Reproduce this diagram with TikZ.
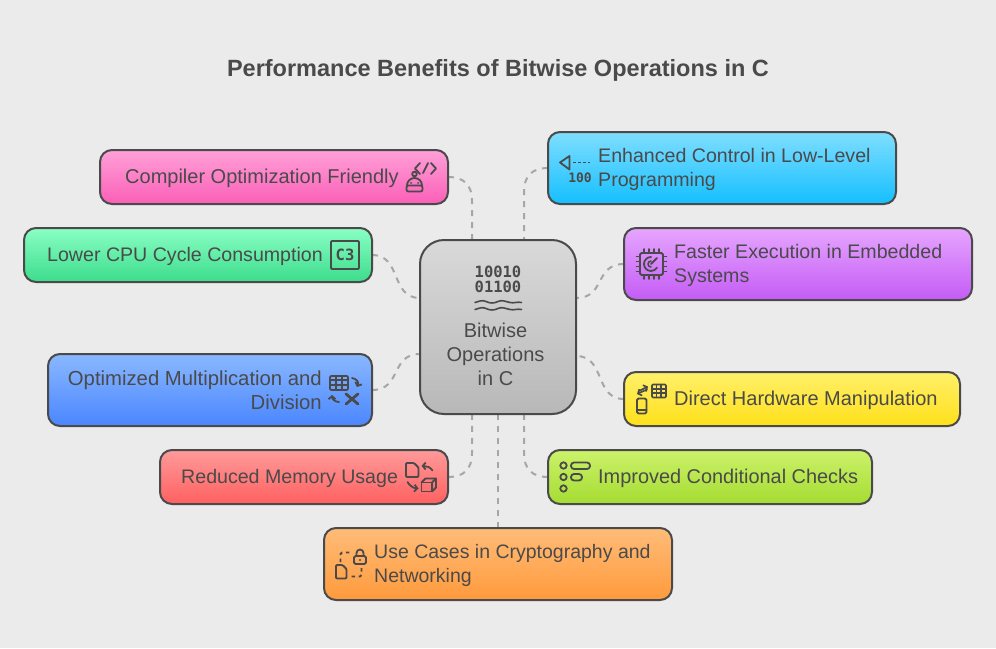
\documentclass[tikz,border=0pt]{standalone}
\usepackage{fontspec}
\setmainfont{Liberation Sans}
\newfontfamily\bitfont{DejaVu Sans Mono}
\usetikzlibrary{arrows.meta}

\definecolor{pagebg}{HTML}{EBEBEB}
\definecolor{inkcol}{HTML}{4A4A4A}
\definecolor{linkcol}{HTML}{A6A6A6}
\definecolor{greytop}{HTML}{D9D9D9}   \definecolor{greybot}{HTML}{B8B8B8}
\definecolor{pinktop}{HTML}{FFA0D8}   \definecolor{pinkbot}{HTML}{FB5FB7}
\definecolor{skytop}{HTML}{80DEFF}    \definecolor{skybot}{HTML}{14BFFF}
\definecolor{minttop}{HTML}{8AFFC4}   \definecolor{mintbot}{HTML}{3CDC8C}
\definecolor{violettop}{HTML}{E6A5FF} \definecolor{violetbot}{HTML}{C45CF5}
\definecolor{bluetop}{HTML}{8AB8FF}   \definecolor{bluebot}{HTML}{4A86FF}
\definecolor{yellowtop}{HTML}{FFF06A} \definecolor{yellowbot}{HTML}{FFE01A}
\definecolor{redtop}{HTML}{FF9A9A}    \definecolor{redbot}{HTML}{FF6060}
\definecolor{limetop}{HTML}{CCF26A}   \definecolor{limebot}{HTML}{A5DC32}
\definecolor{orangetop}{HTML}{FFBC78} \definecolor{orangebot}{HTML}{FF9A3C}

\tikzset{
  box/.style n args={3}{draw=inkcol, line width=2pt, rounded corners=12pt, inner sep=0pt,
    top color=#1top, bottom color=#1bot, minimum width=#2, minimum height=#3},
  lbl/.style={text=inkcol, font=\fontsize{#1}{24}\selectfont, inner sep=0pt, align=left},
  lbl/.default=19.6,
  bits/.style={text=inkcol, inner sep=0pt, font=\bitfont\bfseries\fontsize{15.5}{15.5}\selectfont},
  link/.style={draw=linkcol, line width=2pt, dash pattern=on 6pt off 6pt},
  ico/.style={draw=inkcol, line width=1.8pt, line cap=round, line join=round},
  icotip/.style={ico, -{Straight Barb[length=3pt,width=7pt]}},
}

\begin{document}
\begin{tikzpicture}[x=1pt, y=-1pt]
  \fill[pagebg] (0, 0) rectangle (996, 648);
  \useasboundingbox (0, 0) rectangle (996, 648);

  \node[text=inkcol, font=\bfseries\fontsize{23.5}{28}\selectfont, inner sep=0pt] (title) at (498, 70.5) {Performance Benefits of Bitwise Operations in C};

  % connectors
  \coordinate (topl) at (472, 240);
  \coordinate (topr) at (524, 240);
  \coordinate (botl) at (472, 414);
  \coordinate (botm) at (498, 414);
  \coordinate (botr) at (524, 414);
  \coordinate (lefta) at (420, 298);
  \coordinate (leftb) at (420, 354);
  \coordinate (righta) at (576, 298);
  \coordinate (rightb) at (576, 356);
  \coordinate (compilerend) at (448, 177);
  \coordinate (controlend) at (548, 168);
  \coordinate (cycleend) at (372, 255);
  \coordinate (embeddedend) at (624, 264);
  \coordinate (multiplyend) at (372, 390);
  \coordinate (hardwareend) at (624, 399);
  \coordinate (memoryend) at (448, 477);
  \coordinate (checksend) at (548, 477);
  \coordinate (cryptoend) at (498, 528);
  \draw[link] (compilerend) .. controls (464, 177) and (472, 185) .. (472, 201) -- (topl);
  \draw[link] (controlend) .. controls (532, 168) and (524, 176) .. (524, 192) -- (topr);
  \draw[link] (cycleend) .. controls (402, 255) and (390, 298) .. (lefta);
  \draw[link] (multiplyend) .. controls (402, 390) and (390, 354) .. (leftb);
  \draw[link] (embeddedend) .. controls (594, 264) and (606, 298) .. (righta);
  \draw[link] (hardwareend) .. controls (594, 399) and (606, 356) .. (rightb);
  \draw[link] (memoryend) .. controls (464, 477) and (472, 469) .. (472, 453) -- (botl);
  \draw[link] (checksend) .. controls (532, 477) and (524, 469) .. (524, 453) -- (botr);
  \draw[link] (cryptoend) -- (botm);

  % boxes
  \node[box={grey}{156}{174}, rounded corners=24pt] (bitwise) at (498, 327) {};
  \node[box={pink}{348}{54}] (compiler) at (274, 177) {};
  \node[box={sky}{348}{72}] (control) at (722, 168) {};
  \node[box={mint}{348}{54}] (cycle) at (198, 255) {};
  \node[box={violet}{348}{72}] (embedded) at (798, 264) {};
  \node[box={blue}{324}{72}] (multiply) at (210, 390) {};
  \node[box={yellow}{336}{54}] (hardware) at (792, 399) {};
  \node[box={red}{288}{54}] (memory) at (304, 477) {};
  \node[box={lime}{324}{54}] (checks) at (710, 477) {};
  \node[box={orange}{348}{72}] (crypto) at (498, 564) {};

  % labels
  \node[lbl=20, anchor=west] (compilertxt) at (125, 178.5) {Compiler Optimization Friendly};
  \node[lbl, anchor=west] (controltxt) at (598, 169.5) {Enhanced Control in Low-Level\\Programming};
  \node[lbl, anchor=west] (cycletxt) at (47, 256.5) {Lower CPU Cycle Consumption};
  \node[lbl, anchor=west] (embeddedtxt) at (674, 265.5) {Faster Execution in Embedded\\Systems};
  \node[lbl=20.3, anchor=east, align=right] (multiplytxt) at (322, 390) {Optimized Multiplication and\\Division};
  \node[lbl=20, anchor=west] (hardwaretxt) at (674, 400.5) {Direct Hardware Manipulation};
  \node[lbl, anchor=west] (memorytxt) at (181, 478.5) {Reduced Memory Usage};
  \node[lbl=19.9, anchor=west] (checkstxt) at (598, 478.5) {Improved Conditional Checks};
  \node[lbl=19.5, anchor=west] (cryptotxt) at (374, 565.5) {Use Cases in Cryptography and\\Networking};
  \node[lbl=20, align=center] (bitwisetxt) at (495.5, 354) {Bitwise\\Operations\\in C};

  % central icon
  \node[bits] (bitsa) at (498, 272) {10010};
  \node[bits] (bitsb) at (498, 287) {01100};
  \foreach \wy in {302.5, 309.5} {
    \draw[ico, line width=1.6pt] (475, \wy) .. controls (479, \wy-1) and (482, \wy-3) .. (486, \wy-1)
      .. controls (490, \wy+1) and (494, \wy+1) .. (498, \wy-1)
      .. controls (502, \wy-3) and (505, \wy-1) .. (510, \wy)
      .. controls (514, \wy+1) and (517, \wy-1) .. (521.5, \wy);
  }

  % compiler icon
  \draw[ico] (420, 163) -- (415, 168.5) -- (420, 174);
  \draw[ico] (423, 173) -- (428, 163);
  \draw[ico] (431, 163) -- (436, 168.5) -- (431, 174);
  \draw[ico] (414.5, 174) circle (2.3);
  \draw[ico] (414.5, 176.5) -- (414.5, 178);
  \draw[ico] (407, 185.5) arc (180:360:7.5);
  \draw[ico, rounded corners=2pt] (406.5, 185.5) rectangle (422.5, 191.5);
  \fill[inkcol] (411, 183) circle (1) (418, 183) circle (1);

  % cycle icon
  \draw[ico, rounded corners=1pt] (331, 241) rectangle (359, 269);
  \node[bits] (cthree) at (345, 255) {C3};

  % control icon
  \draw[ico] (560, 162.5) -- (569.5, 156) -- (569.5, 169.5) -- cycle;
  \draw[ico, dash pattern=on 2.5pt off 2.5pt, line cap=butt] (573, 162.5) -- (590, 162.5);
  \node[bits, font=\bitfont\bfseries\fontsize{13}{13}\selectfont] (hundred) at (580, 177.5) {100};

  % embedded icon
  \draw[ico, rounded corners=1.5pt] (640, 253) rectangle (663, 275);
  \foreach \p in {-7.5, -2.5, 2.5, 7.5} {
    \draw[ico, line width=1.6pt] (651.5+\p, 249) -- (651.5+\p, 253);
    \draw[ico, line width=1.6pt] (651.5+\p, 275) -- (651.5+\p, 279);
    \draw[ico, line width=1.6pt] (636.5, 264+\p) -- (640, 264+\p);
    \draw[ico, line width=1.6pt] (663, 264+\p) -- (666.5, 264+\p);
  }
  \draw[ico] (651, 257) arc (270:30:7);
  \draw[ico, line width=1.6pt] (651, 261) arc (270:90:3);
  \draw[ico] (651, 264) -- (657, 258);

  % multiply icon
  \draw[ico, rounded corners=1pt, line width=1.6pt] (330, 376) rectangle (348, 390);
  \draw[ico, line width=1.2pt] (330, 380) -- (348, 380) (330, 385) -- (348, 385) (336, 376) -- (336, 390) (342, 376) -- (342, 390);
  \draw[icotip] (352, 378) .. controls (357, 379) and (359, 382) .. (357, 387);
  \draw[icotip] (339, 402) .. controls (335, 402) and (332, 399) .. (332, 395);
  \draw[ico, line width=2.8pt] (346, 394) -- (358, 404) (358, 394) -- (346, 404);

  % hardware icon
  \draw[ico, rounded corners=1pt, line width=1.6pt] (652, 384.5) rectangle (666, 397.5);
  \draw[ico, line width=1.2pt] (652, 389) -- (666, 389) (652, 393) -- (666, 393) (656.5, 384.5) -- (656.5, 397.5) (661, 384.5) -- (661, 397.5);
  \draw[ico, rounded corners=1.5pt] (637, 398.5) rectangle (646.5, 413.5);
  \draw[ico, line width=1.5pt] (637, 410) -- (646.5, 410);
  \draw[icotip, line width=1.6pt] (639, 391) -- (648, 386.5);
  \draw[icotip, line width=1.6pt] (647, 389.5) -- (637, 394);

  % memory icon
  \draw[ico, rounded corners=1pt] (406, 463) -- (414, 463) -- (418.5, 467.5) -- (418.5, 477) -- (406, 477) -- cycle;
  \draw[icotip] (432.5, 470.5) .. controls (430, 467) and (427, 466) .. (421.5, 466);
  \draw[icotip] (407.5, 482) .. controls (410, 486) and (413, 488) .. (418.5, 488.5);
  \draw[ico] (421.5, 482.5) rectangle (432, 491.5);
  \draw[ico] (421.5, 482.5) -- (425.5, 478.5) -- (436, 478.5) -- (436, 487.5) -- (432, 491.5);
  \draw[ico] (432, 482.5) -- (436, 478.5);

  % checks icon
  \foreach \cy in {465.5, 477, 488.5}
    \draw[ico] (563.5, \cy) circle (3.2);
  \draw[ico, rounded corners=3pt] (571, 462.5) rectangle (590, 469);
  \draw[ico, rounded corners=3pt] (571, 474) rectangle (582, 480.5);

  % crypto icon
  \draw[ico, rounded corners=1.5pt] (354, 556) rectangle (366, 564);
  \draw[ico] (356.5, 556) -- (356.5, 553) arc (180:360:3.5) -- (363.5, 556);
  \fill[inkcol] (360, 560) circle (1.2);
  \draw[ico, rounded corners=1pt] (336, 565) -- (342.5, 565) -- (346.5, 569) -- (346.5, 578.5) -- (336, 578.5) -- cycle;
  \draw[ico, dash pattern=on 3.5pt off 3.5pt, line cap=butt, rounded corners=1.5pt] (340.5, 562) -- (340.5, 552.5) -- (351, 552.5);
  \draw[ico, dash pattern=on 3.5pt off 3.5pt, line cap=butt, rounded corners=1.5pt] (351.5, 576.5) -- (361.5, 576.5) -- (361.5, 566.5);
\end{tikzpicture}
\end{document}
